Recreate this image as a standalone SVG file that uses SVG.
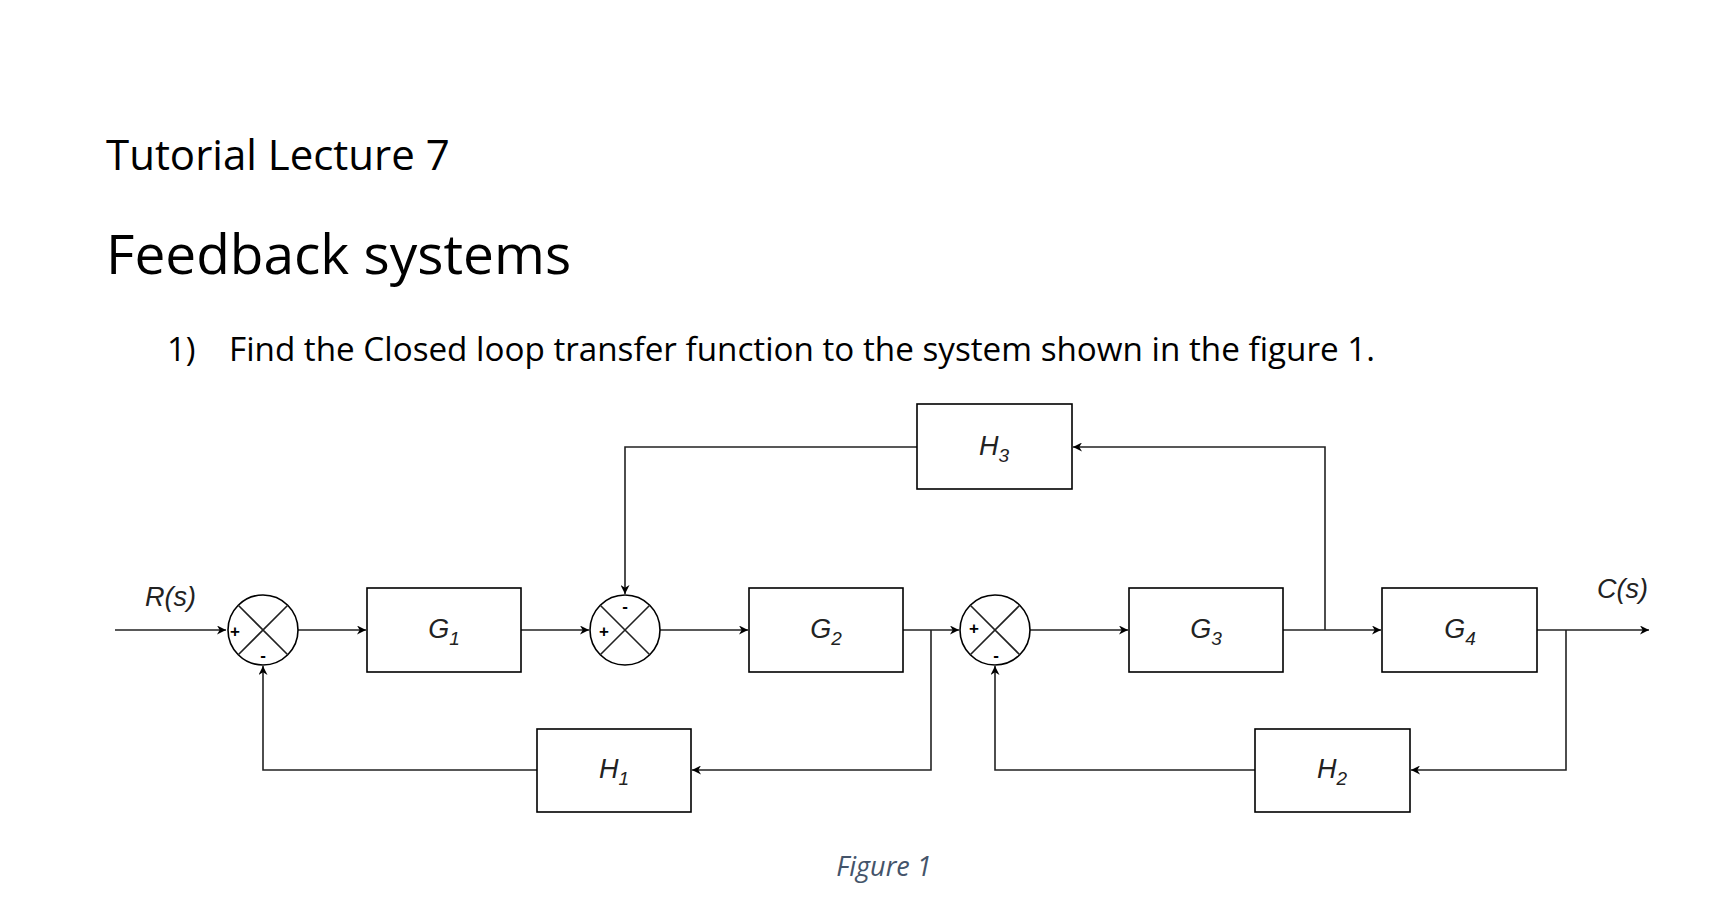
<svg xmlns="http://www.w3.org/2000/svg" width="1736" height="924" viewBox="0 0 1736 924">
<style>
.t{font-family:"Open Sans","Liberation Sans",sans-serif;fill:#000}
.b{fill:#fff;stroke:#000;stroke-width:1.6}
.l{font-family:"Liberation Sans",Arial,sans-serif;font-style:italic;font-size:27px;fill:#222}
.s{font-family:"Liberation Sans",Arial,sans-serif;font-size:17px;font-weight:bold;fill:#000}
.w{fill:none;stroke:#222;stroke-width:1.6}
</style>
<defs><marker id="a" viewBox="0 0 10 10" refX="10" refY="5" markerWidth="9" markerHeight="9" markerUnits="userSpaceOnUse" orient="auto"><path d="M0,0L10,5L0,10L3,5Z" fill="#000"/></marker></defs>
<rect width="1736" height="924" fill="#fff"/>
<text class="t" x="106" y="170" font-size="42">Tutorial Lecture 7</text>
<text class="t" x="106" y="274" font-size="55">Feedback systems</text>
<text class="t" x="167" y="361" font-size="33">1)</text>
<text class="t" x="229" y="361" font-size="33" textLength="1146" lengthAdjust="spacingAndGlyphs">Find the Closed loop transfer function to the system shown in the figure 1.</text>
<g id="connectors" class="w">
<path d="M115,630H226" marker-end="url(#a)"/>
<path d="M298,630H366" marker-end="url(#a)"/>
<path d="M521,630H589" marker-end="url(#a)"/>
<path d="M660,630H748" marker-end="url(#a)"/>
<path d="M903,630H959" marker-end="url(#a)"/>
<path d="M1030,630H1128" marker-end="url(#a)"/>
<path d="M1283,630H1381" marker-end="url(#a)"/>
<path d="M1537,630H1649" marker-end="url(#a)"/>
<path d="M931,630V770H692" marker-end="url(#a)"/>
<path d="M537,770H263V666" marker-end="url(#a)"/>
<path d="M1325,630V447H1073" marker-end="url(#a)"/>
<path d="M917,447H625V594" marker-end="url(#a)"/>
<path d="M1566,630V770H1411" marker-end="url(#a)"/>
<path d="M1255,770H995V666" marker-end="url(#a)"/>
</g>
<g id="sum1"><ellipse class="b" cx="263" cy="630" rx="35" ry="35"/><path class="w" d="M238,605L288,655M288,605L238,655"/><text class="s" x="235" y="637" text-anchor="middle">+</text><text class="s" x="263" y="661" text-anchor="middle">-</text></g>
<g id="sum2"><ellipse class="b" cx="625" cy="630" rx="35" ry="35"/><path class="w" d="M600,605L650,655M650,605L600,655"/><text class="s" x="604" y="637" text-anchor="middle">+</text><text class="s" x="625" y="612" text-anchor="middle">-</text></g>
<g id="sum3"><ellipse class="b" cx="995" cy="630" rx="35" ry="35"/><path class="w" d="M970,605L1020,655M1020,605L970,655"/><text class="s" x="974" y="634" text-anchor="middle">+</text><text class="s" x="996" y="661" text-anchor="middle">-</text></g>
<g id="G1"><rect class="b" x="367" y="588" width="154" height="84"/><text class="l" x="444" y="638" text-anchor="middle">G<tspan font-size="19" dy="7">1</tspan></text></g>
<g id="G2"><rect class="b" x="749" y="588" width="154" height="84"/><text class="l" x="826" y="638" text-anchor="middle">G<tspan font-size="19" dy="7">2</tspan></text></g>
<g id="G3"><rect class="b" x="1129" y="588" width="154" height="84"/><text class="l" x="1206" y="638" text-anchor="middle">G<tspan font-size="19" dy="7">3</tspan></text></g>
<g id="G4"><rect class="b" x="1382" y="588" width="155" height="84"/><text class="l" x="1460" y="638" text-anchor="middle">G<tspan font-size="19" dy="7">4</tspan></text></g>
<g id="H1"><rect class="b" x="537" y="729" width="154" height="83"/><text class="l" x="614" y="778" text-anchor="middle">H<tspan font-size="19" dy="7">1</tspan></text></g>
<g id="H2"><rect class="b" x="1255" y="729" width="155" height="83"/><text class="l" x="1332" y="778" text-anchor="middle">H<tspan font-size="19" dy="7">2</tspan></text></g>
<g id="H3"><rect class="b" x="917" y="404" width="155" height="85"/><text class="l" x="994" y="455" text-anchor="middle">H<tspan font-size="19" dy="7">3</tspan></text></g>
<text class="l" x="145" y="606">R(s)</text>
<text class="l" x="1597" y="598">C(s)</text>
<text x="884" y="876" text-anchor="middle" font-family="Open Sans,Liberation Sans,sans-serif" font-style="italic" font-size="27" fill="#44546a">Figure 1</text>
</svg>
